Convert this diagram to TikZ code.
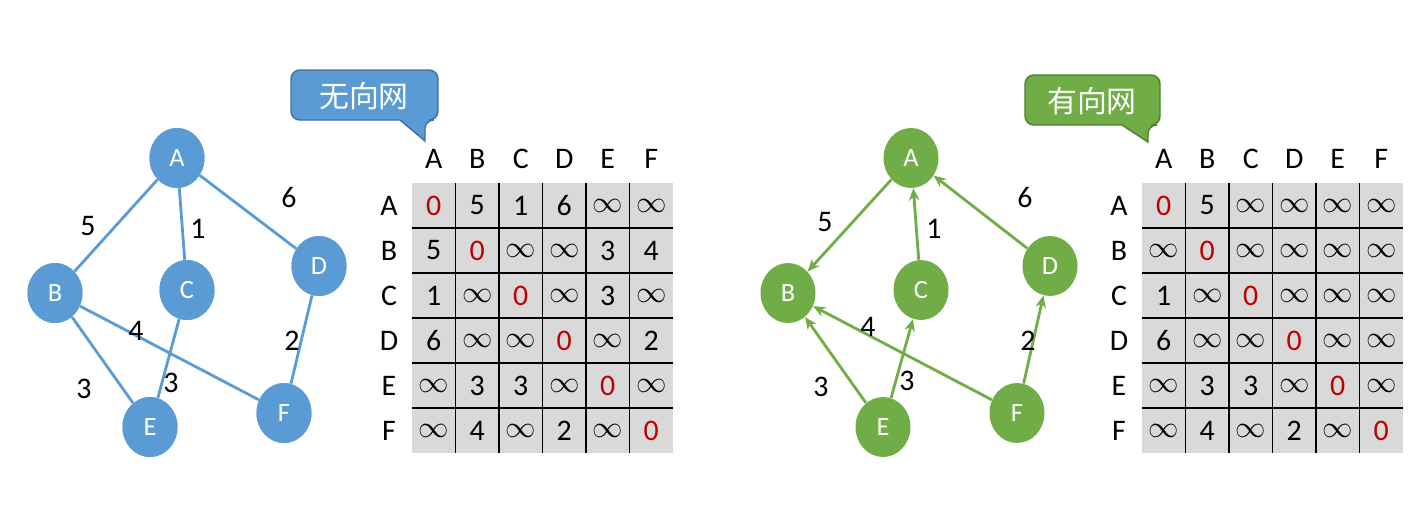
\documentclass[tikz,border=0pt]{standalone}
\usepackage{fontspec}
\setmainfont{Carlito}
\newfontfamily\cjk{Noto Sans CJK SC}
\usetikzlibrary{shapes.geometric,arrows.meta}
\definecolor{bl}{HTML}{5B9BD5}
\definecolor{bld}{HTML}{41719C}
\definecolor{gr}{HTML}{70AD47}
\definecolor{grd}{HTML}{507E32}
\definecolor{zr}{HTML}{C00000}
\tikzset{
 vb/.style={ellipse,fill=bl,minimum width=1.1cm,minimum height=1.2cm,inner sep=0,text=white,font=\fontsize{15}{18}\selectfont},
 vg/.style={vb,fill=gr},
 eb/.style={draw=bl,line width=1.6pt},
 eg/.style={draw=gr,line width=1.6pt,-{Stealth[length=7pt,width=6pt]}},
 lab/.style={font=\fontsize{17}{20}\selectfont},
 cell/.style={lab}
}
\newcommand{\mtable}[4]{% x0, name, rows list, unused
}
\begin{document}
\begin{tikzpicture}[x=0.02cm,y=-0.02cm]
\useasboundingbox (0,0) rectangle (1422,507);
% ---------- left graph
\node[vb] (A) at (177,158) {A};
\node[vb] (B) at (55,293) {B};
\node[vb] (C) at (187,290) {C};
\node[vb] (D) at (319,266) {D};
\node[vb] (E) at (150,427) {E};
\node[vb] (F) at (284,413) {F};
\begin{scope}[on background layer/.style={}]
\end{scope}
\draw[eb] (A) -- (B); \draw[eb] (A) -- (C); \draw[eb] (A) -- (D);
\draw[eb] (B) -- (E); \draw[eb] (B) -- (F); \draw[eb] (C) -- (E); \draw[eb] (D) -- (F);
\node[vb] at (A) {A}; \node[vb] at (B) {B}; \node[vb] at (C) {C};
\node[vb] at (D) {D}; \node[vb] at (E) {E}; \node[vb] at (F) {F};
\node[lab] (l1) at (88,226) {5};
\node[lab] (l2) at (198,229) {1};
\node[lab] (l3) at (289,198) {6};
\node[lab] (l4) at (136,331) {4};
\node[lab] (l5) at (292,341) {2};
\node[lab] (l6) at (84,389) {3};
\node[lab] (l7) at (171,383) {3};
% callout left
\draw[bld,fill=bl,line width=0.8pt,rounded corners=5pt] (291,70) -- (438,70) -- (438,120) -- (425,120) [sharp corners]-- (425,141) -- (400,120) [rounded corners=5pt] -- (291,120) -- cycle;
\node[text=white,font=\cjk\fontsize{17}{20}\selectfont] (cl) at (364,96) {无向网};
% ---------- right graph
\node[vg] (A2) at (911,158) {A};
\node[vg] (B2) at (788,293) {B};
\node[vg] (C2) at (921,290) {C};
\node[vg] (D2) at (1050,266) {D};
\node[vg] (E2) at (883,427) {E};
\node[vg] (F2) at (1017,413) {F};
\draw[eg] (A2) -- (B2); \draw[eg] (C2) -- (A2); \draw[eg] (D2) -- (A2);
\draw[eg] (E2) -- (B2); \draw[eg] (E2) -- (C2); \draw[eg] (F2) -- (B2); \draw[eg] (F2) -- (D2);
\node[lab] (m1) at (825,222) {5};
\node[lab] (m2) at (934,229) {1};
\node[lab] (m3) at (1025,198) {6};
\node[lab] (m4) at (868,327) {4};
\node[lab] (m5) at (1028,341) {2};
\node[lab] (m6) at (821,387) {3};
\node[lab] (m7) at (907,381) {3};
\draw[grd,fill=gr,line width=0.8pt,rounded corners=5pt] (1025,75) -- (1160,75) -- (1160,125) -- (1148,125) [sharp corners]-- (1148,142) -- (1122,125) [rounded corners=5pt] -- (1025,125) -- cycle;
\node[text=white,font=\cjk\fontsize{17}{20}\selectfont] (cr) at (1092,101) {有向网};
% ---------- tables
\def\Z{\textcolor{zr}{0}}
\def\I{$\infty$}
\foreach \x/\pre/\rows in {412/L/{{\Z,5,1,6,\I,\I},{5,\Z,\I,\I,3,4},{1,\I,\Z,\I,3,\I},{6,\I,\I,\Z,\I,2},{\I,3,3,\I,\Z,\I},{\I,4,\I,2,\I,\Z}},
                            1142/R/{{\Z,5,\I,\I,\I,\I},{\I,\Z,\I,\I,\I,\I},{1,\I,\Z,\I,\I,\I},{6,\I,\I,\Z,\I,\I},{\I,3,3,\I,\Z,\I},{\I,4,\I,2,\I,\Z}}}{
  \fill[gray!30] (\x,183) rectangle ++(261,270);
  \foreach \k in {1,...,5}{
    \draw[black,line width=1pt] (\x+43.5*\k,183) -- (\x+43.5*\k,453);
    \draw[black,line width=1pt] (\x,183+45*\k) -- (\x+261,183+45*\k);
  }
  \foreach \h [count=\i from 0] in {A,B,C,D,E,F}{
    \node[lab] (\pre h\h) at (\x+21.75+43.5*\i,159) {\h};
    \node[lab] (\pre r\h) at (\x-23,205.5+45*\i) {\h};
  }
  \foreach \row [count=\r from 0] in \rows {
    \foreach \v [count=\c from 0] in \row {
      \node[cell] (\pre c\r\c) at (\x+21.75+43.5*\c,205.5+45*\r) {\v};
    }
  }
}
\end{tikzpicture}
\end{document}
